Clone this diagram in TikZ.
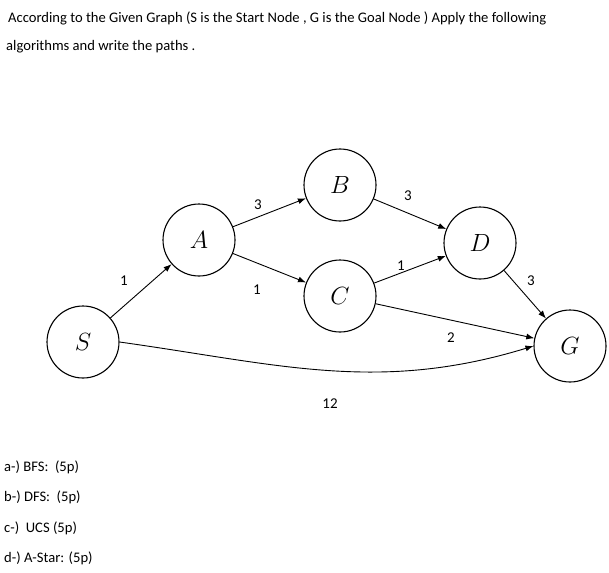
\documentclass[tikz,border=0pt]{standalone}
\usepackage{fontspec}
\setmainfont{Carlito}
\usetikzlibrary{arrows.meta}
\begin{document}
\begin{tikzpicture}[x=1pt,y=-1pt,
  st/.style={circle,draw,line width=1.1pt,minimum size=72pt,inner sep=0pt,font=\fontsize{36}{36}\selectfont},
  ed/.style={-{Latex[length=8pt,width=6pt]},line width=0.9pt},
  lb/.style={font=\fontsize{15}{15}\selectfont},
  tx/.style={anchor=west,font=\fontsize{14.6}{17}\selectfont,inner sep=0pt}]
\useasboundingbox (0,0) rectangle (609,572);
\node[st] (S) at (83,342) {$S$};
\node[st] (A) at (199,240) {$A$};
\node[st] (B) at (340,185) {$B$};
\node[st] (C) at (340,296) {$C$};
\node[st] (D) at (480,243) {$D$};
\node[st] (G) at (570,346) {$G$};
\draw[ed] (S) -- (A);
\draw[ed] (A) -- (B);
\draw[ed] (A) -- (C);
\draw[ed] (B) -- (D);
\draw[ed] (C) -- (D);
\draw[ed] (D) -- (G);
\draw[ed] (C) -- (G);
\draw[ed] (S.east) to[out=-8,in=197] (G.west);
\node[lb] (l1) at (124,281) {1};
\node[lb] (l2) at (258,205) {3};
\node[lb] (l3) at (257,290) {1};
\node[lb] (l4) at (408,196) {3};
\node[lb] (l5) at (401,266) {1};
\node[lb] (l6) at (531,281) {3};
\node[lb] (l7) at (451,338) {2};
\node[lb] (l8) at (330,404) {12};
\node[tx] (t1) at (8,18) {According to the Given Graph (S is the Start Node , G is the Goal Node ) Apply the following};
\node[tx] (t2) at (6,47) {algorithms and write the paths .};
\node[tx] (q1) at (4,467) {a-) BFS:\ \ (5p)};
\node[tx] (q2) at (4,497) {b-) DFS:\ \ (5p)};
\node[tx] (q3) at (4,528) {c-)\ \ UCS (5p)};
\node[tx] (q4) at (4,558) {d-)\ A-Star: (5p)};
\end{tikzpicture}
\end{document}
